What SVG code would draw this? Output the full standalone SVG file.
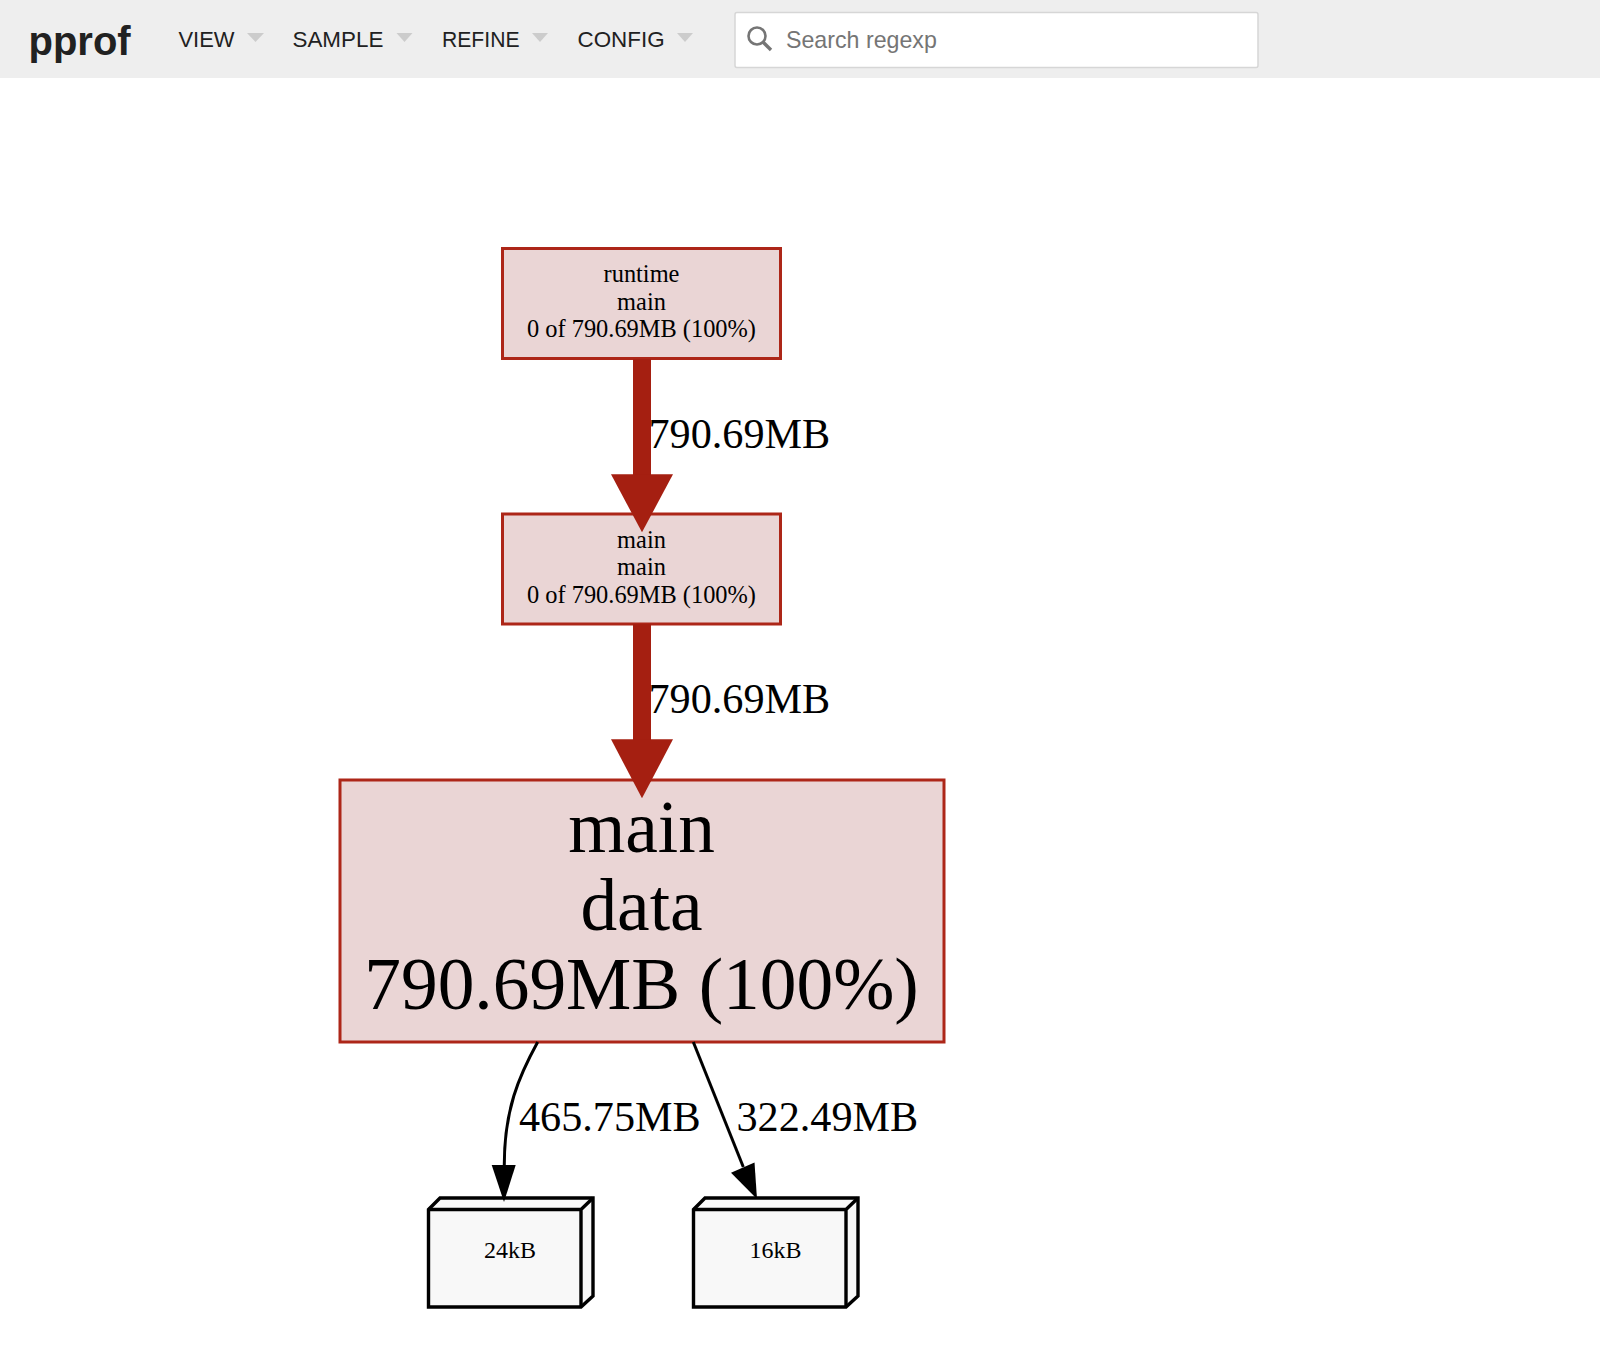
<svg xmlns="http://www.w3.org/2000/svg" width="1600" height="1360" viewBox="0 0 1600 1360">
<style>
.menu{font:22.4px "Liberation Sans",Arial,sans-serif;fill:#212121}
.tri{fill:#ccc}
.n{fill:#ead5d5;stroke:#ad2618;stroke-width:3}
.g{font-family:"Liberation Serif","Times New Roman",serif;fill:#000;text-anchor:middle}
.s{font-size:24.4px}
.e{font-size:42.2px;text-anchor:start}
.l{font-size:73.400px}
.b{fill:#f8f8f8;stroke:#000;stroke-width:3.400;stroke-linejoin:miter}
.red{fill:#a51f11}
</style>
<g id="toolbar">
<rect width="1600" height="78" fill="#eee"/>
<text x="28.500" y="55" font-family="Liberation Sans,Arial,sans-serif" font-weight="700" font-size="40" fill="#212121">pprof</text>
<text class="menu" x="178.500" y="47" textLength="56" lengthAdjust="spacingAndGlyphs">VIEW</text><path class="tri" d="M247 33h17l-8.500 9z"/>
<text class="menu" x="292.500" y="47">SAMPLE</text><path class="tri" d="M396.500 33h16l-8 9z"/>
<text class="menu" x="442" y="47" textLength="77.500" lengthAdjust="spacingAndGlyphs">REFINE</text><path class="tri" d="M532 33h16l-8 9z"/>
<text class="menu" x="577.500" y="47">CONFIG</text><path class="tri" d="M677 33h16l-8 9z"/>
<rect x="735" y="12.500" width="523" height="55" rx="2" fill="#fff" stroke="#d6d6d6" stroke-width="1.500"/>
<circle cx="757" cy="36" r="8.500" fill="none" stroke="#757575" stroke-width="2.600"/>
<path d="M763 42l8 8" stroke="#757575" stroke-width="3.400" fill="none"/>
<text x="786" y="47.500" font-family="Liberation Sans,Arial,sans-serif" font-size="23.200" fill="#757575">Search regexp</text>
</g>
<g id="node-runtime-main">
<rect class="n" x="502.500" y="248.500" width="278" height="110"/>
<text class="g s" x="641.500" y="282">runtime</text><text class="g s" x="641.500" y="310">main</text><text class="g s" x="641.500" y="337">0 of 790.69MB (100%)</text>
</g>
<g id="node-main-main">
<rect class="n" x="502.500" y="514" width="278" height="110"/>
<text class="g s" x="641.500" y="547.500">main</text><text class="g s" x="641.500" y="575">main</text><text class="g s" x="641.500" y="603">0 of 790.69MB (100%)</text>
</g>
<g id="node-main-data">
<rect class="n" x="340" y="780" width="604" height="262"/>
<text class="g l" x="641.500" y="851.500">main</text><text class="g l" x="641.500" y="930">data</text><text class="g l" x="641.500" y="1009">790.69MB (100%)</text>
</g>
<g id="node-24kB">
<path class="b" d="M440 1198H593V1296L581 1307H428.500V1209.500Z"/>
<path class="b" style="fill:none" d="M428.500 1209.500H581V1307M581 1209.500L593 1198"/>
<text class="g" font-size="24" x="510" y="1258">24kB</text>
</g>
<g id="node-16kB">
<path class="b" d="M705 1198H858V1296L846 1307H693.500V1209.500Z"/>
<path class="b" style="fill:none" d="M693.500 1209.500H846V1307M846 1209.500L858 1198"/>
<text class="g" font-size="24" x="775.500" y="1258">16kB</text>
</g>
<g id="connectors">
<rect class="red" x="633" y="359" width="18" height="116"/>
<path class="red" d="M611 474.300h62l-31 58z"/>
<text class="g e" x="648.500" y="447.500">790.69MB</text>
<rect class="red" x="633" y="624" width="18" height="116"/>
<path class="red" d="M611 739.300h62l-31 59z"/>
<text class="g e" x="648.500" y="712.500">790.69MB</text>
<path d="M537.700 1042C519 1076 504 1110 504.300 1166" fill="none" stroke="#000" stroke-width="3"/>
<path d="M491.700 1165h24l-11.700 37z"/>
<text class="g e" x="519" y="1130.500">465.75MB</text>
<path d="M693.300 1042L743.300 1167" fill="none" stroke="#000" stroke-width="3"/>
<path d="M731 1172.700L754.500 1162.500L757 1199z"/>
<text class="g e" x="736.500" y="1130.500">322.49MB</text>
</g>
</svg>
